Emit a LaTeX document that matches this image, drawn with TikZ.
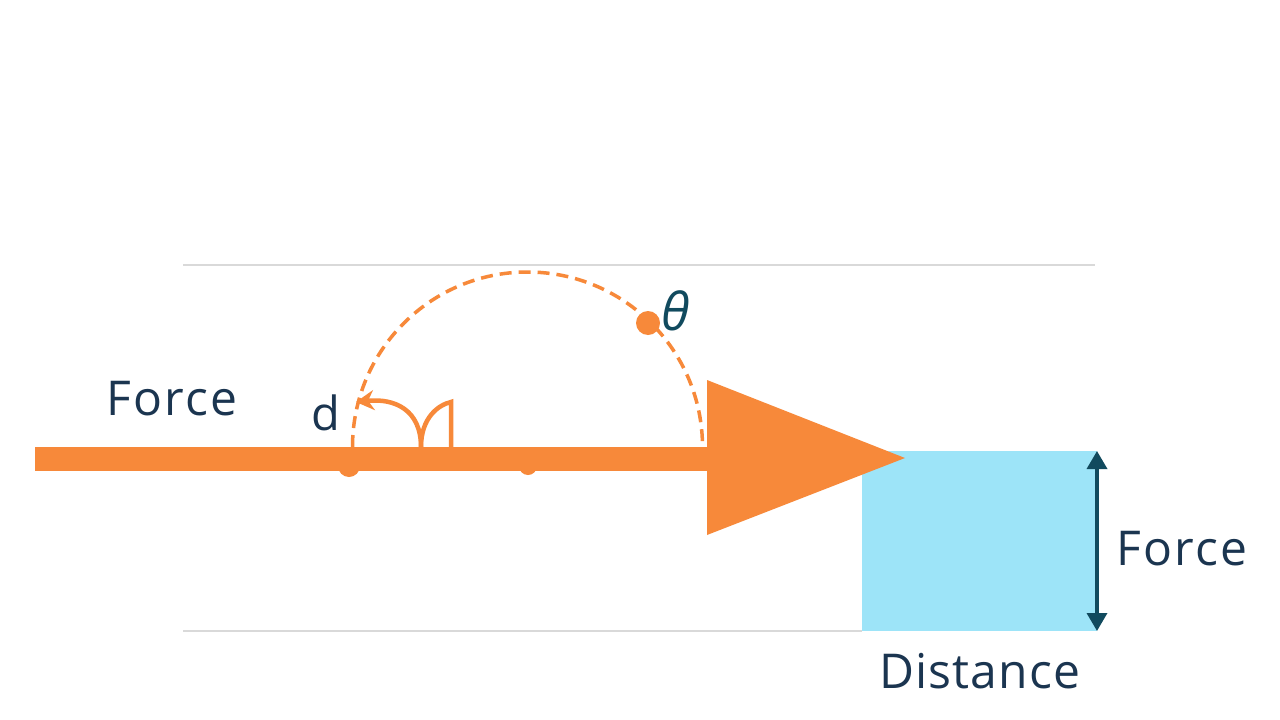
\documentclass[tikz,border=0pt]{standalone}
\usepackage{fontspec}
\setmainfont{Open Sans}
\newfontfamily\spacedF[LetterSpace=5]{Open Sans}
\newfontfamily\spacedD[LetterSpace=2.5]{Open Sans}
\usetikzlibrary{arrows.meta}
\definecolor{orng}{HTML}{F7893A}
\definecolor{navy}{HTML}{1B3550}
\definecolor{teal}{HTML}{114A5E}
\definecolor{cyanbox}{HTML}{9DE4F8}
\definecolor{guide}{HTML}{D9D9D9}
\tikzset{
  lbl/.style={inner sep=0pt, anchor=base west, text=navy, font=\spacedF\fontsize{48}{52}\selectfont},
  guideline/.style={draw=guide, line width=2.5pt},
  orngline/.style={draw=orng, line width=4.5pt},
}
\begin{document}
\begin{tikzpicture}[x=1pt, y=-1pt]
\useasboundingbox[fill=white] (0,0) rectangle (1280,720);
% guide lines
\draw[guideline] (183,265) -- (1095,265);
\draw[guideline] (183,631) -- (862,631);
% blue box
\fill[cyanbox] (862,451) rectangle (1097,631);
% bumps under bar
\fill[orng] (349,466) circle (11);
\fill[orng] (528,466) circle (9);
% bar and head
\fill[orng] (35,447) rectangle (709,471);
\fill[orng] (707,380) -- (905,458) -- (707,535) -- cycle;
% dashed arc
\draw[orngline, line width=3.5pt, dash pattern=on 12pt off 7pt] (352.5,447) arc[start angle=180, end angle=360, radius=175];
\fill[orng] (648,323) circle (12);
% small angle mark
\draw[orngline, -{Stealth[length=18pt,width=20pt]}] (421,447) .. controls (421,410) and (395,398) .. (356,402);
\draw[orngline] (421,447) .. controls (421,418) and (438,405) .. (451,402) -- (451,447);
% double arrow
\coordinate (ftop) at (1097,451);
\coordinate (fbot) at (1097,631);
\draw[teal, line width=3.5pt, {Triangle[length=18pt,width=20pt]}-{Triangle[length=18pt,width=20pt]}] (ftop) -- (fbot);
% labels
\node[lbl] (forceL) at (106,415) {Force};
\node[lbl] (forceR) at (1116,565) {Force};
\node[lbl, font=\spacedD\fontsize{48}{52}\selectfont] (dist) at (879,688) {Distance};
\node[lbl, text=teal, font=\itshape\fontsize{52}{56}\selectfont] (theta) at (661,330) {θ};
\node[lbl, font=\fontsize{47}{50}\selectfont] (dd) at (311,430) {d};
\end{tikzpicture}
\end{document}
